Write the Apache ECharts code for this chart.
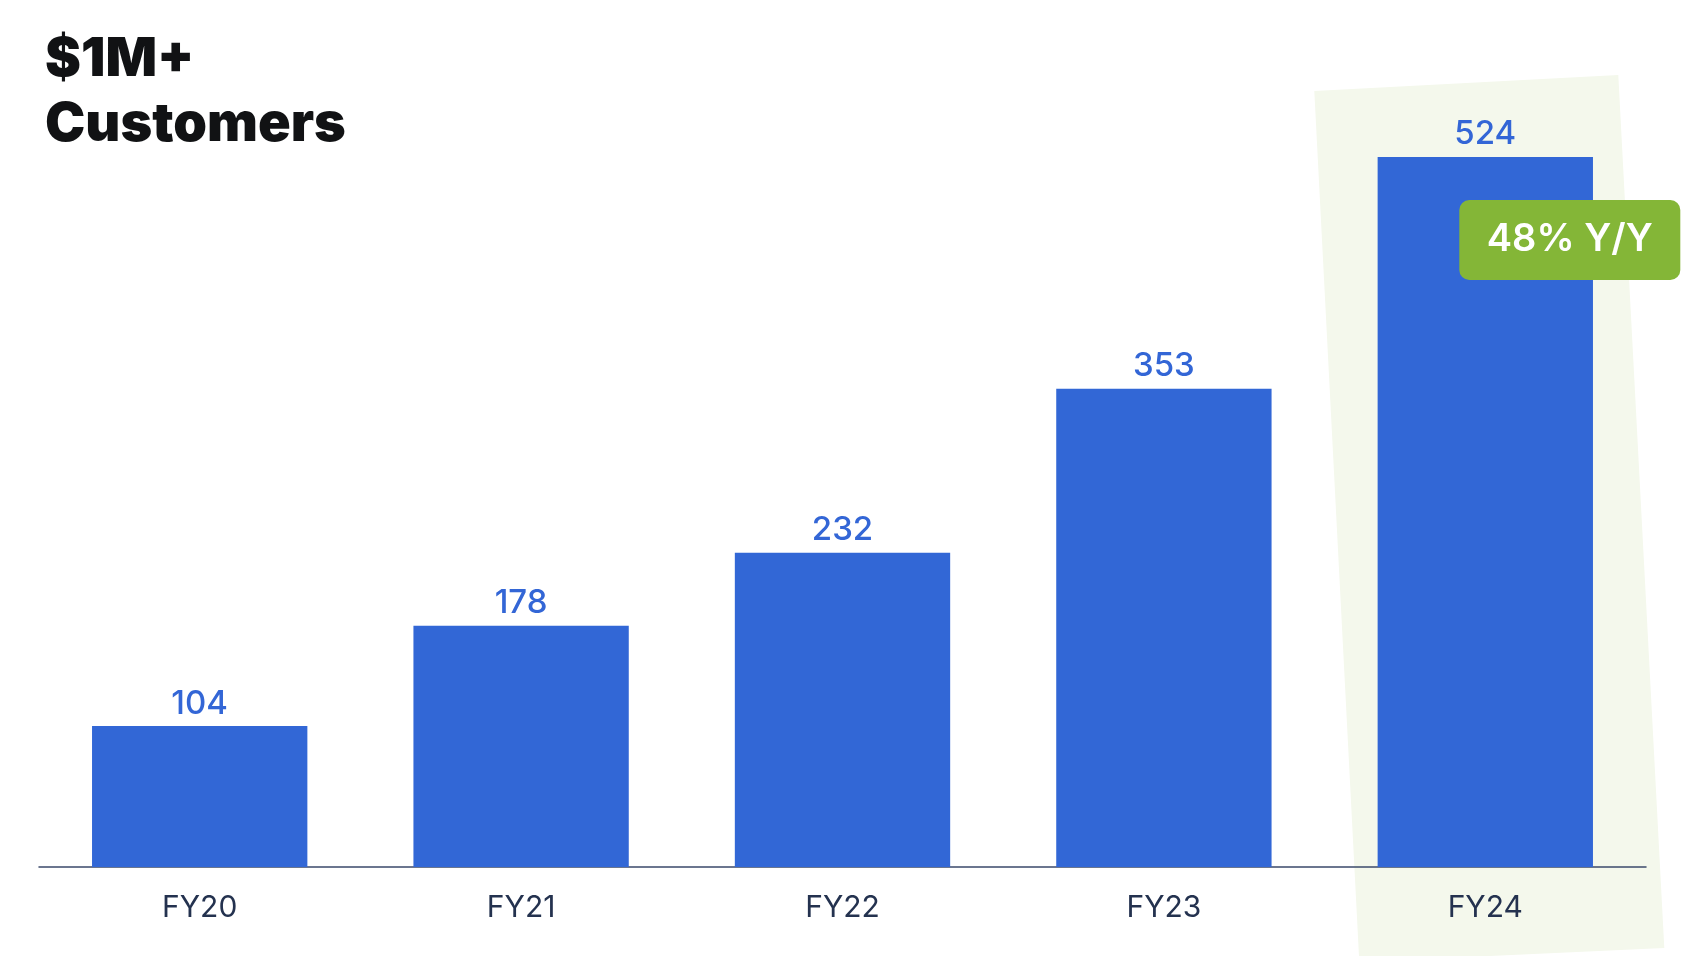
<!DOCTYPE html>
<html><head><meta charset="utf-8">
<script src="https://cdn.jsdelivr.net/npm/echarts@6/dist/echarts.min.js"></script>
<style>html,body{margin:0;padding:0;background:#fff}#c{width:1706px;height:956px}</style>
</head><body><div id="c"></div>
<script>
const categories = ['FY20', 'FY21', 'FY22', 'FY23', 'FY24'];
const customers = [104, 178, 232, 353, 524];
const titleText = '$1M+\nCustomers';
const badgeText = '48% Y/Y';
const highlightCategory = 'FY24';

const chart = echarts.init(document.getElementById('c'), null, {renderer: 'canvas'});
chart.setOption({
  animation: false,
  backgroundColor: '#ffffff',
  title: {
    text: titleText, left: 45, top: 27, padding: 0,
    textStyle: {fontFamily: 'Inter', fontWeight: 900, fontSize: 54, lineHeight: 65, color: '#111214'}
  },
  grid: {left: 39, right: 60, top: 54, bottom: 89},
  xAxis: {
    type: 'category', data: categories,
    axisLine: {lineStyle: {color: '#3b4a6b', width: 1.5}},
    axisTick: {show: false},
    axisLabel: {color: '#24324f', fontFamily: 'Inter', fontSize: 30, margin: 26}
  },
  yAxis: {type: 'value', min: 0, max: 600, show: false, splitLine: {show: false}},
  series: [{
    type: 'bar', data: customers, barWidth: '67%', z: 3,
    itemStyle: {color: '#3267d6'},
    label: {show: true, position: 'top', distance: 6, color: '#3366d6',
      fontFamily: 'Inter', fontSize: 33, fontWeight: 500}
  }]
});

function addDecor() {
  const idx = categories.indexOf(highlightCategory);
  const base = chart.convertToPixel({gridIndex: 0}, [idx, 0]);
  const top = chart.convertToPixel({gridIndex: 0}, [idx, customers[idx]]);
  const cx = base[0];
  const bx = cx - 26, by = top[1] + 43, bw = 221, bh = 80;
  chart.setOption({
    graphic: [
      {type: 'polygon', z: -10, silent: true,
        shape: {points: [[cx - 171, top[1] - 66], [cx + 133, top[1] - 82], [cx + 179, base[1] + 81], [cx - 126, base[1] + 95]]},
        style: {fill: '#f4f8ec'}},
      {type: 'rect', z: 100, silent: true,
        shape: {x: bx, y: by, width: bw, height: bh, r: 10},
        style: {fill: '#84b637'}},
      {type: 'text', z: 101, silent: true,
        style: {text: badgeText, x: bx + bw / 2, y: by + bh / 2, fill: '#ffffff',
          fontFamily: 'Inter', fontWeight: 600, fontSize: 38, align: 'center', verticalAlign: 'middle'}}
    ]
  });
}
addDecor();
</script>
</body></html>
